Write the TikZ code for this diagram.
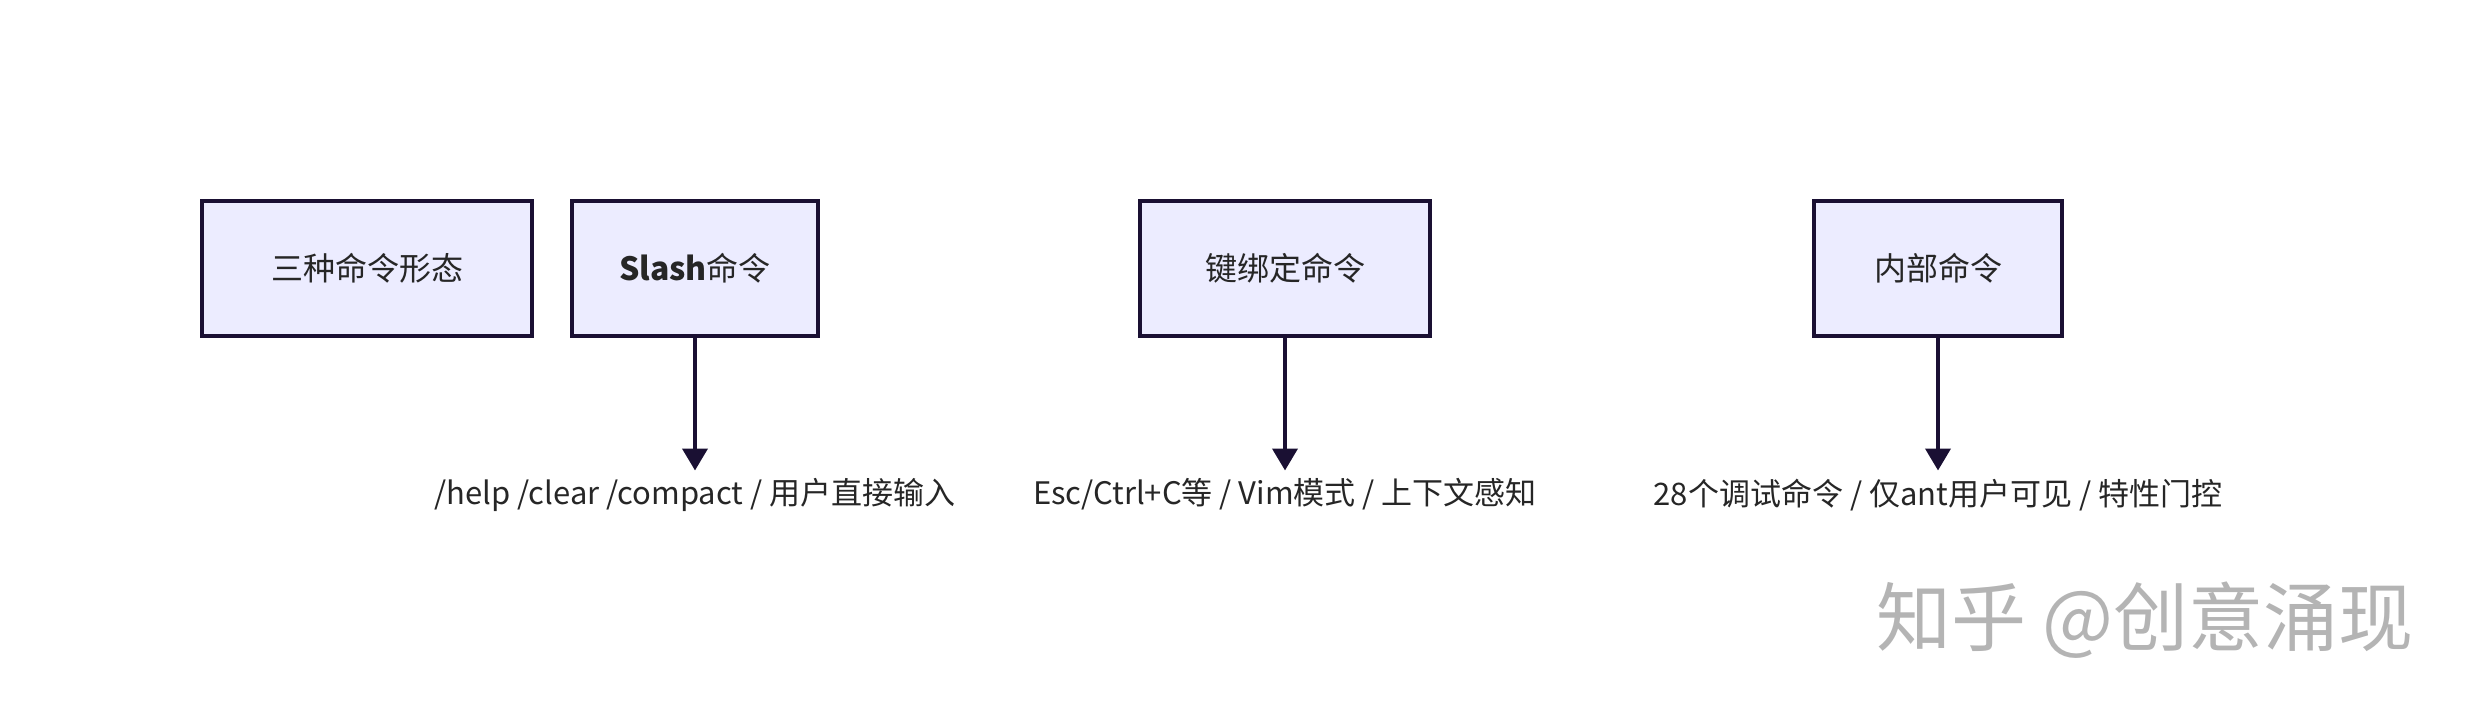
\documentclass[tikz,border=0pt]{standalone}
\usepackage{fontspec}
\setmainfont{Noto Sans CJK SC}
\usetikzlibrary{arrows.meta,positioning}
\definecolor{linec}{HTML}{1A1033}
\definecolor{boxc}{HTML}{ECECFF}
\definecolor{markc}{HTML}{B4B4B4}

\begin{document}
\begin{tikzpicture}[x=1pt,y=-1pt,font=\fontsize{32}{38}\selectfont,
  >={Triangle[width=25pt,length=22pt]},
  cmd/.style={draw=linec,fill=boxc,line width=4pt,minimum height=135pt,inner sep=0pt,text=black!85},
  lbl/.style={inner sep=8pt,text=black!85,font=\fontsize{31}{36}\selectfont}]
\useasboundingbox (0,0) rectangle (2474,718);
% command boxes
\node[cmd,minimum width=330pt](form) at (367,268){三种命令形态};
\node[cmd,minimum width=246pt,right=36pt of form](slash){\textbf{Slash}命令};
\node[cmd,minimum width=290pt,right=318pt of slash](bind){键绑定命令};
\node[cmd,minimum width=248pt,right=380pt of bind](inner){内部命令};
% descriptions
\node[lbl,below=133pt of slash](slashL){/help /clear /compact / 用户直接输入};
\node[lbl,below=133pt of bind](bindL){Esc/Ctrl+C等 / Vim模式 / 上下文感知};
\node[lbl,below=133pt of inner](innerL){28个调试命令 / 仅ant用户可见 / 特性门控};
\draw[->,draw=linec,line width=4pt](slash)--(slashL);
\draw[->,draw=linec,line width=4pt](bind)--(bindL);
\draw[->,draw=linec,line width=4pt](inner)--(innerL);
% watermark
\node[text=markc,font=\fontsize{75}{82}\selectfont](mark) at (2145,620){知乎 @创意涌现};
\end{tikzpicture}
\end{document}
